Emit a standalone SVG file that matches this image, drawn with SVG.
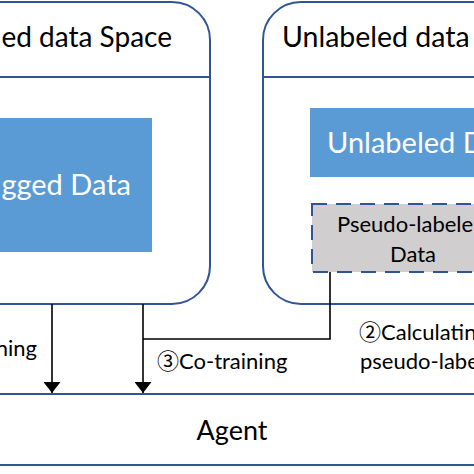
<svg xmlns="http://www.w3.org/2000/svg" width="474" height="474" viewBox="0 0 474 474">
<style>
.panel{fill:#ffffff;stroke:#2f5597;stroke-width:2}
.div{stroke:#2f5597;stroke-width:2}
.blue{fill:#5b9bd5}
.dash{fill:#d0cece;stroke:#2f5597;stroke-width:2;stroke-dasharray:15 9}
.conn{fill:none;stroke:#000000;stroke-width:1.6}
.t{font-family:Lato,"Open Sans","Liberation Sans",sans-serif;fill:#000000}
.w{font-family:Lato,"Open Sans","Liberation Sans",sans-serif;fill:#ffffff}
.c{font-family:"Noto Sans CJK SC","DejaVu Sans",sans-serif}
</style>
<defs>
<marker id="ah" markerWidth="11" markerHeight="17" refX="11" refY="8.5" orient="auto" markerUnits="userSpaceOnUse">
<path d="M0,0 L11,8.5 L0,17 Z" fill="#000000"/>
</marker>
</defs>
<rect width="474" height="474" fill="#ffffff"/>
<g id="left-space">
<rect class="panel" x="-60" y="2" width="270" height="302" rx="38" ry="38"/>
<line class="div" x1="-60" y1="77" x2="210" y2="77"/>
<text class="t" x="172" y="47" font-size="28" text-anchor="end">ed data Space</text>
</g>
<g id="tagged-data">
<rect class="blue" x="-20" y="118" width="172" height="134"/>
<text class="w" x="131" y="195" font-size="29" text-anchor="end">gged Data</text>
</g>
<g id="right-space">
<rect class="panel" x="263" y="2" width="280" height="302" rx="38" ry="38"/>
<line class="div" x1="263" y1="77" x2="543" y2="77"/>
<text class="t" x="282" y="47" font-size="28.5">Unlabeled data</text>
</g>
<g id="unlabeled-data">
<rect class="blue" x="310" y="108" width="200" height="69"/>
<text class="w" x="327" y="153" font-size="29">Unlabeled D</text>
</g>
<g id="pseudo-data">
<rect class="dash" x="312" y="204" width="202" height="68"/>
<text class="t" x="337" y="232" font-size="22">Pseudo-labele</text>
<text class="t" x="413" y="262" font-size="22" text-anchor="middle">Data</text>
</g>
<g id="agent">
<line class="div" x1="0" y1="394" x2="474" y2="394"/>
<line class="div" x1="0" y1="465" x2="474" y2="465"/>
<text class="t" x="232" y="440" font-size="27" text-anchor="middle">Agent</text>
</g>
<g id="connectors">
<line class="conn" x1="52" y1="304" x2="52" y2="393" marker-end="url(#ah)"/>
<line class="conn" x1="143" y1="304" x2="143" y2="393" marker-end="url(#ah)"/>
<polyline class="conn" points="330,272 330,339 143,339"/>
</g>
<g id="labels">
<text class="t" x="37" y="356" font-size="22" text-anchor="end">ning</text>
<text class="t" x="157" y="369" font-size="22"><tspan class="c">③</tspan>Co-training</text>
<text class="t" x="359" y="340" font-size="22"><tspan class="c">②</tspan>Calculatin</text>
<text class="t" x="360" y="369" font-size="22">pseudo-labe</text>
</g>
</svg>
